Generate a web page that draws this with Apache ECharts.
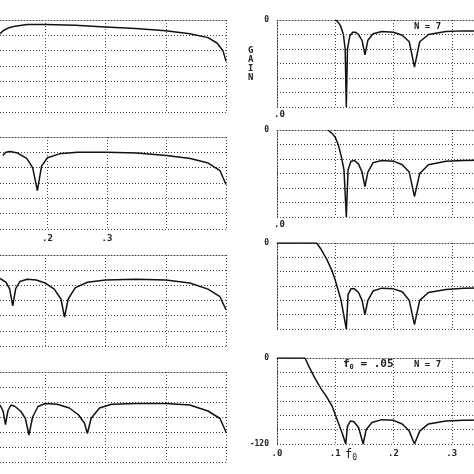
<!DOCTYPE html><html><head><meta charset="utf-8"><script src="https://cdn.jsdelivr.net/npm/echarts@6/dist/echarts.min.js"></script>
<style>html,body{margin:0;background:#fff;overflow:hidden}#c{position:absolute;left:-15px;top:0;width:540px;height:474px}</style></head><body><div id="c"></div><script>
const yTicks=[-120,-100,-80,-60,-40,-20,0];
const L1=[[0.125,-18],[0.13,-14],[0.14,-10],[0.15,-8],[0.17,-6],[0.2,-6],[0.25,-7],[0.3,-9],[0.35,-11],[0.4,-14],[0.44,-18],[0.47,-23],[0.485,-30],[0.495,-40],[0.5,-54]];
const L2=[[0.125,-24],[0.13,-20],[0.137,-19],[0.15,-21],[0.165,-28],[0.175,-40],[0.183,-70],[0.19,-38],[0.2,-27],[0.22,-22],[0.25,-20],[0.3,-20],[0.35,-21],[0.4,-24],[0.44,-28],[0.47,-34],[0.49,-44],[0.5,-62]];
const L3=[[0.125,-31],[0.135,-36],[0.141,-45],[0.146,-67],[0.151,-44],[0.158,-35],[0.17,-32],[0.185,-33],[0.2,-37],[0.215,-45],[0.226,-58],[0.232,-82],[0.238,-58],[0.25,-43],[0.27,-36],[0.3,-33],[0.35,-32],[0.4,-33],[0.44,-37],[0.47,-45],[0.49,-55],[0.5,-72]];
const L4=[[0.125,-44],[0.13,-52],[0.134,-70],[0.138,-52],[0.143,-44],[0.15,-46],[0.16,-53],[0.167,-62],[0.173,-84],[0.179,-60],[0.188,-46],[0.2,-42],[0.22,-43],[0.24,-48],[0.255,-57],[0.265,-68],[0.27,-82],[0.276,-62],[0.29,-48],[0.31,-43],[0.35,-42],[0.4,-42],[0.44,-44],[0.47,-52],[0.49,-62],[0.5,-80]];
const R1=[[0.1,0],[0.104,-2],[0.109,-8],[0.114,-20],[0.117,-40],[0.119,-120],[0.121,-40],[0.125,-22],[0.13,-17],[0.135,-17],[0.14,-20],[0.146,-28],[0.151,-48],[0.156,-28],[0.165,-19],[0.18,-16],[0.2,-17],[0.215,-21],[0.227,-30],[0.236,-65],[0.245,-30],[0.26,-20],[0.29,-16],[0.32,-15],[0.35,-15],[0.4,-15]];
const R2=[[0.087,0],[0.095,-5],[0.1,-10],[0.105,-20],[0.11,-35],[0.115,-55],[0.119,-120],[0.122,-55],[0.127,-43],[0.133,-42],[0.14,-47],[0.146,-58],[0.151,-78],[0.156,-58],[0.165,-45],[0.18,-42],[0.2,-43],[0.215,-48],[0.227,-58],[0.236,-92],[0.245,-60],[0.26,-48],[0.29,-43],[0.32,-42],[0.4,-41]];
const R3=[[0,0],[0.068,0],[0.075,-8],[0.085,-22],[0.095,-40],[0.1,-52],[0.11,-80],[0.119,-120],[0.122,-72],[0.127,-64],[0.133,-64],[0.14,-69],[0.146,-80],[0.151,-100],[0.156,-80],[0.165,-67],[0.18,-63],[0.2,-64],[0.215,-68],[0.227,-80],[0.236,-114],[0.245,-80],[0.26,-69],[0.29,-65],[0.32,-63],[0.4,-62]];
const R4=[[0,0],[0.048,0],[0.055,-12],[0.065,-28],[0.075,-42],[0.085,-54],[0.095,-68],[0.105,-90],[0.112,-105],[0.118,-120],[0.121,-95],[0.126,-88],[0.132,-89],[0.14,-97],[0.148,-120],[0.153,-100],[0.163,-90],[0.18,-86],[0.2,-87],[0.215,-92],[0.227,-102],[0.236,-120],[0.245,-102],[0.26,-92],[0.29,-88],[0.32,-87],[0.4,-86]];
const font='DejaVu Sans Mono';
const LG={left:0,right:299},RG={left:292,right:15};
const panels=[
 {d:L1,g:{...LG,top:20,bottom:362},xmin:0.1,xmax:0.5,xl:null,yl:[]},
 {d:L2,g:{...LG,top:137,bottom:245},xmin:0.1,xmax:0.5,xl:[0.2,0.3],yl:[]},
 {d:L3,g:{...LG,top:255,bottom:128},xmin:0.1,xmax:0.5,xl:null,yl:[]},
 {d:L4,g:{...LG,top:372,bottom:12},xmin:0.1,xmax:0.5,xl:null,yl:[]},
 {d:R1,g:{...RG,top:20,bottom:367},xmin:0,xmax:0.4,xl:null,yl:[0]},
 {d:R2,g:{...RG,top:130,bottom:257},xmin:0,xmax:0.4,xl:null,yl:[0]},
 {d:R3,g:{...RG,top:243,bottom:145},xmin:0,xmax:0.4,xl:null,yl:[0]},
 {d:R4,g:{...RG,top:358,bottom:30},xmin:0,xmax:0.4,xl:[0,0.1,0.2,0.3],yl:[0,-120]}
];
const dot={lineStyle:{color:'#444',type:[1,2],width:1}};
const opt={animation:false,grid:[],xAxis:[],yAxis:[],series:[],graphic:[]};
panels.forEach((p,i)=>{
 opt.grid.push(p.g);
 opt.xAxis.push({type:'value',gridIndex:i,min:p.xmin,max:p.xmax,interval:0.1,axisLine:{show:true,...dot},axisTick:{show:false},splitLine:{show:true,...dot},
  axisLabel:{show:!!p.xl,fontFamily:font,fontSize:9,fontWeight:'bold',color:'#222',margin:5,showMinLabel:true,formatter:v=>p.xl&&p.xl.some(t=>Math.abs(t-v)<1e-6)?'.'+Math.round(v*10):''}});
 opt.yAxis.push({type:'value',gridIndex:i,min:-120,max:0,interval:20,axisLine:{show:true,...dot},axisTick:{show:false},splitLine:{show:true,...dot},
  axisLabel:{show:p.yl.length>0,fontFamily:font,fontSize:8,fontWeight:'bold',color:'#222',margin:8,formatter:v=>p.yl.includes(v)?String(v):''}});
 opt.series.push({type:'line',xAxisIndex:i,yAxisIndex:i,data:p.d,showSymbol:false,lineStyle:{color:'#111',width:1.5},clip:true});
});
const T=(x,y,t,s)=>({type:'text',x:x+15,y,style:{text:t,font:'bold '+(s||9)+'px '+font,fill:'#222'}});
opt.graphic=[T(248,46,'G'),T(248,55,'A'),T(248,64,'I'),T(248,73,'N'),
 T(274,110,'.0'),T(274,220,'.0'),T(414,22,'N = 7'),T(414,360,'N = 7'),
 {type:'text',x:358,y:358,style:{text:'{a|f}{b|0}{a| = .05}',rich:{a:{font:'bold 11px '+font,fill:'#222'},b:{font:'bold 7px '+font,fill:'#222',padding:[6,0,0,0]}}}},
 {type:'text',x:360,y:447,style:{text:'{a|f}{b|0}',rich:{a:{font:'12px '+font,fill:'#222'},b:{font:'8px '+font,fill:'#222',padding:[7,0,0,0]}}}}];
echarts.init(document.getElementById('c')).setOption(opt);
</script></body></html>
